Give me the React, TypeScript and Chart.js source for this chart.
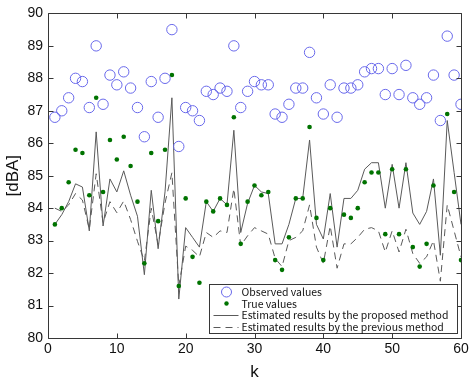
import React, { useEffect, useRef } from "react";
import { Chart, registerables } from "chart.js";

Chart.register(...registerables);

// ---- data ----
const K = [
  1, 2, 3, 4, 5, 6, 7, 8, 9, 10, 11, 12, 13, 14, 15, 16, 17, 18, 19, 20,
  21, 22, 23, 24, 25, 26, 27, 28, 29, 30, 31, 32, 33, 34, 35, 36, 37, 38, 39, 40,
  41, 42, 43, 44, 45, 46, 47, 48, 49, 50, 51, 52, 53, 54, 55, 56, 57, 58, 59, 60,
];

const OBSERVED = [
  86.8, 87.0, 87.4, 88.0, 87.9, 87.1, 89.0, 87.2, 88.1, 87.8,
  88.2, 87.7, 87.1, 86.2, 87.9, 86.8, 88.0, 89.5, 85.9, 87.1,
  87.0, 86.7, 87.6, 87.5, 87.7, 87.6, 89.0, 87.1, 87.6, 87.9,
  87.8, 87.8, 86.9, 86.8, 87.2, 87.7, 87.7, 88.8, 87.4, 86.9,
  87.8, 86.8, 87.7, 87.7, 87.8, 88.2, 88.3, 88.3, 87.5, 88.3,
  87.5, 88.4, 87.4, 87.2, 87.4, 88.1, 86.7, 89.3, 88.1, 87.2,
];

const TRUE_VALUES = [
  83.5, 84.0, 84.8, 85.8, 85.7, 84.4, 87.4, 84.5, 86.1, 85.5,
  86.2, 85.3, 84.2, 82.3, 85.7, 83.6, 85.8, 88.1, 81.6, 84.3,
  82.5, 81.7, 84.2, 83.9, 84.3, 84.1, 86.8, 82.9, 84.2, 84.7,
  84.4, 84.5, 82.4, 82.1, 83.1, 84.3, 84.3, 86.5, 83.7, 82.4,
  84.0, 81.2, 83.8, 83.7, 84.0, 84.8, 85.1, 85.1, 83.2, 85.2,
  83.2, 85.2, 82.8, 82.2, 82.9, 84.7, 81.2, 86.9, 84.5, 82.4,
];

const PROPOSED = [
  83.5, 83.8, 84.2, 84.75, 84.65, 83.3, 86.35, 83.45, 84.9, 84.5,
  85.15, 84.4, 83.75, 81.95, 84.55, 82.75, 84.5, 87.4, 81.2, 83.4,
  83.1, 82.8, 84.2, 83.9, 84.3, 84.1, 86.4, 83.25, 84.15, 84.7,
  84.5, 84.45, 82.9, 82.9, 83.5, 84.3, 84.3, 86.1, 83.5, 83.05,
  84.45, 82.8, 84.3, 84.3, 84.55, 85.2, 85.4, 85.4, 84.0, 85.35,
  84.0, 85.4, 83.85, 83.5, 83.9, 84.9, 82.55, 86.7, 85.1, 83.5,
];

const PREVIOUS = [
  84.0, 83.9, 84.1, 84.45, 84.25, 83.35, 85.06, 83.55, 84.2, 83.86,
  84.22, 83.65, 82.98, 82.37, 84.0, 82.88, 84.16, 85.09, 81.6, 82.83,
  82.7, 82.5, 83.25, 83.1, 83.3, 83.25, 84.6, 82.85, 83.15, 83.4,
  83.3, 83.2, 82.45, 82.2, 83.0, 83.1, 83.3, 84.1, 82.8, 82.3,
  83.45, 82.15, 82.9, 82.9, 83.1, 83.35, 83.4, 83.3, 82.65, 83.3,
  82.65, 83.35, 82.6, 82.3, 82.5, 83.0, 81.75, 84.1, 83.3, 82.5,
];

const X_TICKS = [0, 10, 20, 30, 40, 50, 60];
const Y_TICKS = [80, 81, 82, 83, 84, 85, 86, 87, 88, 89, 90];

const LABELS = [
  "Observed values",
  "True values",
  "Estimated results by the proposed method",
  "Estimated results by the previous method",
];

const BLUE = "rgb(105,105,235)";
const GREEN = "rgb(0,115,0)";
const GRAY = "rgb(90,90,90)";
const FRAME = "rgb(55,55,55)";
const LEGEND_FAMILY = '"Noto Sans CJK JP", "Liberation Sans", sans-serif';

const frameLegendPlugin = {
  id: "frameLegend",
  afterDatasetsDraw(chart: any) {
    const { ctx, chartArea: a, scales } = chart;
    ctx.save();
    // frame
    ctx.strokeStyle = FRAME;
    ctx.lineWidth = 1;
    const L = Math.round(a.left) + 0.5;
    const R = Math.round(a.right) + 0.5;
    const T = Math.round(a.top) + 0.5;
    const B = Math.round(a.bottom) + 0.5;
    ctx.beginPath();
    ctx.rect(L, T, R - L, B - T);
    ctx.stroke();
    // inward ticks
    const TL = 5;
    ctx.beginPath();
    for (const v of X_TICKS) {
      const x = Math.round(scales.x.getPixelForValue(v)) + 0.5;
      ctx.moveTo(x, T);
      ctx.lineTo(x, T + TL);
      ctx.moveTo(x, B);
      ctx.lineTo(x, B - TL);
    }
    for (const v of Y_TICKS) {
      const y = Math.round(scales.y.getPixelForValue(v)) + 0.5;
      ctx.moveTo(L, y);
      ctx.lineTo(L + TL, y);
      ctx.moveTo(R, y);
      ctx.lineTo(R - TL, y);
    }
    ctx.stroke();

    // legend box (opaque, inside plot, bottom-right)
    const bw = 248;
    const bh = 49;
    const bx = Math.round(R - 5 - bw) + 0.5;
    const by = Math.round(B - 6 - bh) + 0.5;
    ctx.fillStyle = "#ffffff";
    ctx.fillRect(bx, by, bw, bh);
    ctx.strokeStyle = FRAME;
    ctx.strokeRect(bx, by, bw, bh);

    const ds = chart.data.datasets;
    // fit the longest label to the available width
    ctx.font = "11px " + LEGEND_FAMILY;
    let maxW = 0;
    for (const d of ds) maxW = Math.max(maxW, ctx.measureText(d.label).width);
    const avail = bw - 32 - 9;
    const fs = Math.min(11.5, (11 * avail) / maxW);
    ctx.font = fs.toFixed(2) + "px " + LEGEND_FAMILY;

    const rowH = 11.5;
    const symX = bx + 17;
    const textX = bx + 32;
    ctx.textBaseline = "middle";
    ctx.textAlign = "left";
    for (let i = 0; i < ds.length; i++) {
      const cy = by + 7.5 + i * rowH;
      if (i === 0) {
        ctx.beginPath();
        ctx.strokeStyle = BLUE;
        ctx.setLineDash([]);
        ctx.arc(symX, cy, 5, 0, Math.PI * 2);
        ctx.stroke();
      } else if (i === 1) {
        ctx.beginPath();
        ctx.fillStyle = GREEN;
        ctx.arc(symX, cy, 2.2, 0, Math.PI * 2);
        ctx.fill();
      } else {
        ctx.beginPath();
        ctx.strokeStyle = GRAY;
        ctx.setLineDash(i === 3 ? [7, 5] : []);
        ctx.moveTo(bx + 4, Math.round(cy) + 0.5);
        ctx.lineTo(bx + 29, Math.round(cy) + 0.5);
        ctx.stroke();
        ctx.setLineDash([]);
      }
      ctx.fillStyle = "#111";
      ctx.fillText(ds[i].label, textX, cy + 0.5);
    }
    ctx.restore();
  },
};

function pts(values: number[]) {
  return K.map((k, i) => ({ x: k, y: values[i] }));
}

export default function App() {
  const ref = useRef<HTMLCanvasElement | null>(null);

  useEffect(() => {
    const canvas = ref.current;
    if (!canvas) return;
    const tickFont = { family: '"Liberation Sans", Arial, sans-serif', size: 14 };
    const titleFont = { family: '"Liberation Sans", Arial, sans-serif', size: 17 };
    const chart = new Chart(canvas, {
      type: "line",
      data: {
        datasets: [
          {
            label: LABELS[0],
            data: pts(OBSERVED),
            showLine: false,
            pointStyle: "circle",
            pointRadius: 5.2,
            pointBorderWidth: 1,
            pointBorderColor: BLUE,
            pointBackgroundColor: "rgba(0,0,0,0)",
            borderColor: BLUE,
            backgroundColor: "rgba(0,0,0,0)",
          },
          {
            label: LABELS[1],
            data: pts(TRUE_VALUES),
            showLine: false,
            pointStyle: "circle",
            pointRadius: 2.3,
            pointBorderWidth: 0,
            pointBackgroundColor: GREEN,
            borderColor: GREEN,
            backgroundColor: GREEN,
          },
          {
            label: LABELS[2],
            data: pts(PROPOSED),
            borderColor: GRAY,
            borderWidth: 1,
            pointRadius: 0,
            tension: 0,
            fill: false,
          },
          {
            label: LABELS[3],
            data: pts(PREVIOUS),
            borderColor: GRAY,
            borderWidth: 1,
            borderDash: [7, 5],
            pointRadius: 0,
            tension: 0,
            fill: false,
          },
        ],
      },
      options: {
        animation: false,
        responsive: false,
        devicePixelRatio: 1,
        events: [],
        layout: { padding: { top: 12, right: 13, left: 0, bottom: 0 } },
        plugins: {
          legend: { display: false },
          tooltip: { enabled: false },
          title: { display: false },
        },
        scales: {
          x: {
            type: "linear",
            min: 0,
            max: 60,
            grid: { display: false, drawTicks: false },
            border: { display: false },
            ticks: {
              stepSize: 10,
              color: "#111",
              font: tickFont,
              padding: 3,
              maxRotation: 0,
            },
            title: {
              display: true,
              text: "k",
              color: "#111",
              font: titleFont,
              padding: { top: 0, bottom: 1 },
            },
            afterFit: (s: any) => {
              s.height = 46;
            },
          },
          y: {
            type: "linear",
            min: 80,
            max: 90,
            grid: { display: false, drawTicks: false },
            border: { display: false },
            ticks: {
              stepSize: 1,
              color: "#111",
              font: tickFont,
              padding: 5,
            },
            title: {
              display: true,
              text: "[dBA]",
              color: "#111",
              font: titleFont,
              padding: { top: 3, bottom: 0 },
            },
            afterFit: (s: any) => {
              s.width = 48;
            },
          },
        },
      },
      plugins: [frameLegendPlugin],
    });
    return () => chart.destroy();
  }, []);

  return (
    <div style={{ position: "fixed", left: 0, top: 0, width: 474, height: 384, background: "#fff" }}>
      <canvas ref={ref} width={474} height={384} style={{ display: "block" }} />
    </div>
  );
}
